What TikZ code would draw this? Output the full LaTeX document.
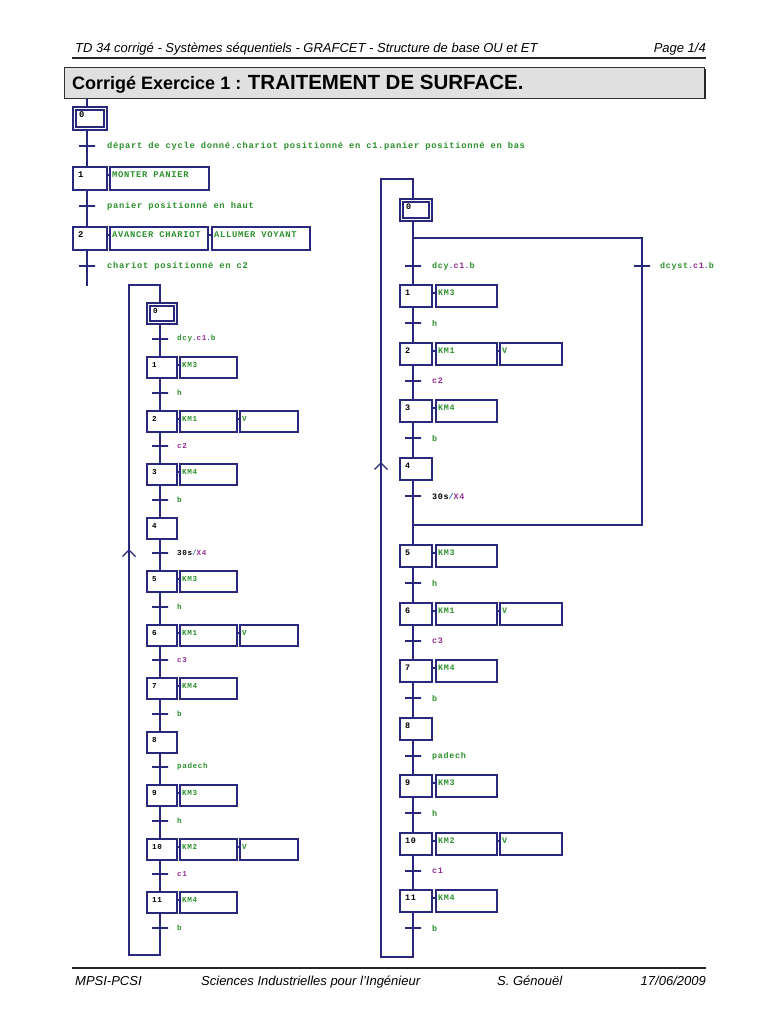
\documentclass[tikz,border=0pt]{standalone}
\usepackage{fontspec}
\setmainfont{Liberation Sans}
\newfontfamily\gmono[LetterSpace=8]{Liberation Mono}
\usetikzlibrary{calc}
\definecolor{gline}{RGB}{40,40,125}
\definecolor{ggreen}{RGB}{45,145,45}
\definecolor{gpurple}{RGB}{150,45,150}
\definecolor{gblue}{RGB}{60,110,200}
\definecolor{tgray}{RGB}{224,224,224}
\newcommand\gfs{\fontsize{8}{10}\selectfont}
\newcommand\cp[1]{\textcolor{gpurple}{#1}}
\newcommand\cb[1]{\textcolor{gblue}{#1}}
% step: name, x, y, w, h, number
\newcommand\gstep[6]{%
  \node[stepbox,minimum width=#4,minimum height=#5] (#1) at (#2,#3) {};
  \node[numtxt] (#1n) at ([shift={(5,8)}]#1.north west) {#6};}
% initial step
\newcommand\gistep[6]{%
  \node[stepbox,minimum width=#4,minimum height=#5] (#1) at (#2,#3) {};
  \draw[lnk] ([shift={(3,3)}]#1.north west) rectangle ([shift={(-3,-3)}]#1.south east);
  \node[numtxt] (#1n) at ([shift={(6,8)}]#1.north west) {#6};}
% action: name, step, previous box, dx, w, h, text
\newcommand\gact[7]{%
  \node[actbox,minimum width=#5,minimum height=#6] (#1) at ([xshift=#4pt]#2.north west) {};
  \draw[lnk] ([yshift=-8pt]#3.north east) -- ([yshift=-8pt]#1.north west);
  \node[acttxt] (#1t) at ([shift={(2,8)}]#1.north west) {#7};}
% transition: name, x, y, label x, label
\newcommand\gtr[5]{%
  \node[trnbar] (#1) at (#2,#3) {};
  \node[lbl] (#1l) at (#4,#3) {#5};}
\begin{document}
\begin{tikzpicture}[x=1pt,y=-1pt,
  lnk/.style={draw=gline,line width=1.3pt},
  stepbox/.style={draw=gline,line width=1.3pt,anchor=north west,inner sep=0pt,outer sep=0pt},
  actbox/.style={draw=gline,line width=1.3pt,anchor=north west,inner sep=0pt,outer sep=0pt},
  trnbar/.style={draw=gline,line width=1.8pt,minimum width=16pt,minimum height=0pt,inner sep=0pt,outer sep=0pt},
  numtxt/.style={anchor=west,inner sep=0pt,text=black,font=\gmono\bfseries\gfs},
  acttxt/.style={anchor=west,inner sep=0pt,text=ggreen,font=\gmono\bfseries\gfs},
  lbl/.style={anchor=west,inner sep=0pt,text=ggreen,font=\gmono\bfseries\gfs},
  hdr/.style={inner sep=0pt,font=\itshape\fontsize{13}{15}\selectfont}]
\useasboundingbox (0,0) rectangle (768,1024);
\fill[white] (0,0) rectangle (768,1024);

% ---------- header ----------
\node[hdr,anchor=base west] (htxt) at (75,53) {TD 34 corrigé - Systèmes séquentiels - GRAFCET - Structure de base OU et ET};
\node[hdr,anchor=base east] (hpage) at (706,53) {Page 1/4};
\draw[line width=1.2pt,black!85] (72,58) -- (706,58);

% ---------- title ----------
\node[draw=black!80,line width=0.8pt,fill=tgray,anchor=north west,minimum width=640pt,minimum height=31pt,inner sep=0pt] (tbox) at (64,67) {};
\draw[line width=2.6pt,black!85] ([yshift=-2pt]tbox.north east) -- (tbox.south east);
\node[anchor=base west,inner sep=0pt] (ttxt) at (72,90) {\bfseries\fontsize{18}{20}\selectfont Corrigé Exercice 1 : \fontsize{20.5}{22}\selectfont TRAITEMENT DE SURFACE.};

% ---------- footer ----------
\draw[line width=1.2pt,black!85] (72,968) -- (706,968);
\node[hdr,anchor=base west] (f1) at (75,985) {MPSI-PCSI};
\node[hdr,anchor=base west] (f2) at (201,985) {Sciences Industrielles pour l'Ingénieur};
\node[hdr,anchor=base west] (f3) at (497,985) {S. Génouël};
\node[hdr,anchor=base east] (f4) at (706,985) {17/06/2009};

% ================= top grafcet =================
\renewcommand\gfs{\fontsize{8.8}{10}\selectfont}
\gistep{T0}{73}{107}{34}{23}{0}
\gstep{T1}{73}{167}{34}{23}{1}
\gstep{T2}{73}{227}{34}{23}{2}
\gact{T1a}{T1}{T1}{37}{99}{23}{MONTER PANIER}
\gact{T2a}{T2}{T2}{37}{98}{23}{AVANCER CHARIOT}
\gact{T2b}{T2}{T2a}{139}{98}{23}{ALLUMER VOYANT}
\gtr{TT0}{87}{146}{107}{départ de cycle donné.chariot positionné en c1.panier positionné en bas}
\gtr{TT1}{87}{206}{107}{panier positionné en haut}
\gtr{TT2}{87}{266}{107}{chariot positionné en c2}
\coordinate (Ttop) at (87,99);
\coordinate (Tend) at (87,286);
\draw[lnk] (Ttop) -- ([xshift=14pt]T0.north west);
\draw[lnk] ([xshift=14pt]T0.south west) -- ([xshift=14pt]T1.north west);
\draw[lnk] ([xshift=14pt]T1.south west) -- ([xshift=14pt]T2.north west);
\draw[lnk] ([xshift=14pt]T2.south west) -- (Tend);

% ================= left grafcet =================
\renewcommand\gfs{\fontsize{7.6}{9}\selectfont}
\gistep{L0}{147}{303}{30}{21}{0}
\foreach \k in {1,...,11}{
  \pgfmathsetmacro\yy{round(357+53.5*(\k-1))}
  \gstep{L\k}{147}{\yy}{30}{21}{\k}
}
\foreach \s/\w in {1/KM3,3/KM4,5/KM3,7/KM4,9/KM3,11/KM4}{
  \gact{L\s a}{L\s}{L\s}{33}{57}{21}{\w}
}
\foreach \s/\w in {2/KM1,6/KM1,10/KM2}{
  \gact{L\s a}{L\s}{L\s}{33}{57}{21}{\w}
  \gact{L\s b}{L\s}{L\s a}{93}{58}{21}{V}
}
\gtr{LT0}{160}{339}{177}{dcy\cb{.}\cp{c1}\cb{.}b}
\foreach \k/\t in {1/h,2/{\cp{c2}},3/b,4/{\textcolor{black}{30s}\cb{/}\cp{X4}},5/h,6/{\cp{c3}},7/b,8/padech,9/h,10/{\cp{c1}},11/b}{
  \pgfmathsetmacro\yy{round(357+53.5*(\k-1)+35.5)}
  \gtr{LT\k}{160}{\yy}{177}{\t}
}
\foreach \k in {0,...,10}{
  \pgfmathtruncatemacro\kk{\k+1}
  \draw[lnk] ([xshift=13pt]L\k.south west) -- ([xshift=13pt]L\kk.north west);
}
\coordinate (Lb) at (129,955);
\coordinate (Lt) at (129,285);
\draw[lnk] ([xshift=13pt]L11.south west) |- (Lb) -- (Lt) -| ([xshift=13pt]L0.north west);
\coordinate (Larr) at (129,550);
\draw[lnk] ([shift={(-6.5,6.5)}]Larr) -- (Larr) -- ([shift={(6.5,6.5)}]Larr);

% ================= right grafcet =================
\renewcommand\gfs{\fontsize{8.4}{10}\selectfont}
\gistep{R0}{400}{199}{32}{22}{0}
\foreach \k in {1,...,4}{
  \pgfmathsetmacro\yy{round(285+57.7*(\k-1))}
  \gstep{R\k}{400}{\yy}{32}{22}{\k}
}
\foreach \k in {5,...,11}{
  \pgfmathsetmacro\yy{round(545+57.5*(\k-5))}
  \gstep{R\k}{400}{\yy}{32}{22}{\k}
}
\foreach \s/\w in {1/KM3,3/KM4,5/KM3,7/KM4,9/KM3,11/KM4}{
  \gact{R\s a}{R\s}{R\s}{36}{61}{22}{\w}
}
\foreach \s/\w in {2/KM1,6/KM1,10/KM2}{
  \gact{R\s a}{R\s}{R\s}{36}{61}{22}{\w}
  \gact{R\s b}{R\s}{R\s a}{100}{62}{22}{V}
}
\gtr{RT0}{413}{266}{432}{dcy\cb{.}\cp{c1}\cb{.}b}
\gtr{RTB}{642}{266}{660}{dcyst\cb{.}\cp{c1}\cb{.}b}
\foreach \k/\t in {1/h,2/{\cp{c2}},3/b,4/{\textcolor{black}{30s}\cb{/}\cp{X4}}}{
  \pgfmathsetmacro\yy{round(285+57.7*(\k-1)+38)}
  \gtr{RT\k}{413}{\yy}{432}{\t}
}
\foreach \k/\t in {5/h,6/{\cp{c3}},7/b,8/padech,9/h,10/{\cp{c1}},11/b}{
  \pgfmathsetmacro\yy{round(545+57.5*(\k-5)+38)}
  \gtr{RT\k}{413}{\yy}{432}{\t}
}
\foreach \k in {0,...,10}{
  \pgfmathtruncatemacro\kk{\k+1}
  \draw[lnk] ([xshift=13pt]R\k.south west) -- ([xshift=13pt]R\kk.north west);
}
\coordinate (Rdiv) at (413,238);
\coordinate (Rconv) at (413,525);
\draw[lnk] (Rdiv) -| (RTB.center) |- (Rconv);
\coordinate (Rb) at (381,957);
\coordinate (Rt) at (381,179);
\draw[lnk] ([xshift=13pt]R11.south west) |- (Rb) -- (Rt) -| ([xshift=13pt]R0.north west);
\coordinate (Rarr) at (381,463);
\draw[lnk] ([shift={(-6.5,6.5)}]Rarr) -- (Rarr) -- ([shift={(6.5,6.5)}]Rarr);
\end{tikzpicture}
\end{document}
